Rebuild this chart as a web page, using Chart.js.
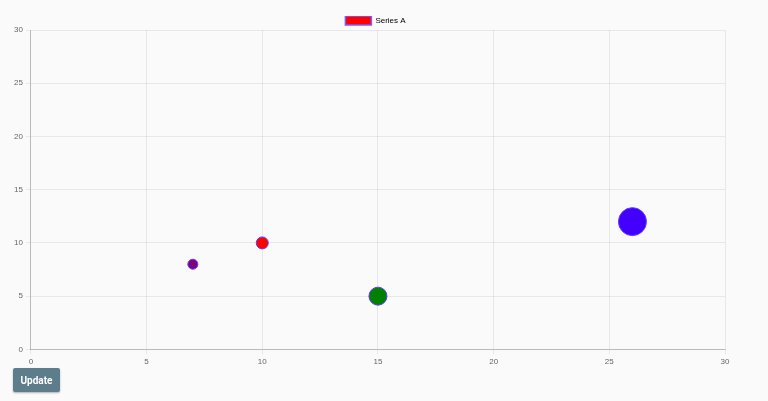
<!DOCTYPE html>
<html>
<head>
<meta charset="utf-8">
<script src="https://cdn.jsdelivr.net/npm/chart.js@4"></script>
<style>
  html, body { margin: 0; padding: 0; background: #fafafa; width: 768px; height: 401px; overflow: hidden; }
  #wrap { position: absolute; left: 11px; top: 15px; width: 729px; height: 355px; }
  #btn { position: absolute; left: 13px; top: 368px; width: 47px; height: 24px; background: #5e7d8c; color: #fff;
         font-family: Roboto, sans-serif; font-weight: bold; font-size: 10px; border: none; border-radius: 2px;
         box-shadow: 0 1px 2px rgba(0,0,0,0.3); padding: 0; }
</style>
</head>
<body>
<div id="wrap"><canvas id="c"></canvas></div>
<button id="btn">Update</button>
<script>
const seriesLabel = 'Series A';
const xValues = [10, 7, 15, 26];
const yValues = [10, 8, 5, 12];
const rValues = [6, 5, 9, 14];
const pointColors = ['#ff0000', '#800080', '#008000', '#4400ff'];
const tickValues = [0, 5, 10, 15, 20, 25, 30];

const points = xValues.map((x, i) => ({ x: x, y: yValues[i], r: rValues[i] }));

// Tighten the gap between legend and plot area
const legendTighten = {
  id: 'legendTighten',
  beforeUpdate(chart) {
    const lg = chart.legend;
    if (lg && !lg._tightened) {
      const orig = lg.fit;
      lg.fit = function () {
        orig.call(this);
        this.height = Math.max(0, this.height - 5);
      };
      lg._tightened = true;
    }
  }
};

new Chart(document.getElementById('c'), {
  type: 'bubble',
  data: {
    datasets: [{
      label: seriesLabel,
      data: points,
      backgroundColor: pointColors,
      borderColor: '#5a3cff',
      borderWidth: 1,
      hoverBackgroundColor: pointColors
    }]
  },
  options: {
    responsive: true,
    maintainAspectRatio: false,
    animation: false,
    layout: { padding: 0 },
    plugins: {
      legend: {
        labels: {
          boxWidth: 26,
          boxHeight: 9,
          font: { size: 8, family: 'Helvetica, Arial, sans-serif' },
          color: '#666',
          padding: 0,
          generateLabels: (chart) => [{
            text: seriesLabel,
            fillStyle: pointColors[0],
            strokeStyle: '#7a5cff',
            lineWidth: 1.5,
            datasetIndex: 0
          }]
        }
      },
      tooltip: { enabled: false }
    },
    scales: {
      x: {
        type: 'linear', min: 0, max: 30,
        afterBuildTicks: (s) => { s.ticks = tickValues.map(v => ({ value: v })); },
        ticks: { font: { size: 8, family: 'Helvetica, Arial, sans-serif' }, color: '#666' },
        grid: { color: 'rgba(0,0,0,0.07)', tickColor: 'rgba(0,0,0,0.07)', tickLength: 5 },
        border: { color: 'rgba(0,0,0,0.2)', width: 1 }
      },
      y: {
        type: 'linear', min: 0, max: 30,
        afterBuildTicks: (s) => { s.ticks = tickValues.map(v => ({ value: v })); },
        ticks: { font: { size: 8, family: 'Helvetica, Arial, sans-serif' }, color: '#666' },
        grid: { color: 'rgba(0,0,0,0.07)', tickColor: 'rgba(0,0,0,0.07)', tickLength: 5 },
        border: { color: 'rgba(0,0,0,0.2)', width: 1 }
      }
    }
  },
  plugins: [legendTighten]
});
</script>
</body>
</html>
